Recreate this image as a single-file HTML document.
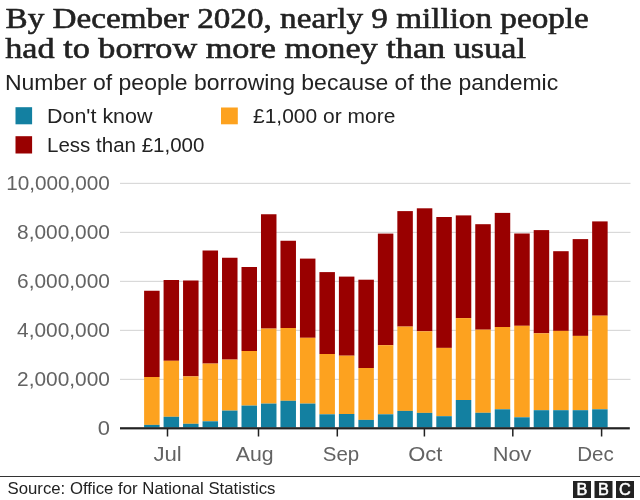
<!DOCTYPE html>
<html><head><meta charset="utf-8"><style>
html,body{margin:0;padding:0;background:#fff;}
body{width:640px;height:500px;overflow:hidden;}
svg{display:block;will-change:transform;}
text{font-family:"Liberation Sans",sans-serif;}
.title{font-family:"Liberation Serif",serif;font-weight:normal;font-size:27.5px;fill:#222;stroke:#222;stroke-width:0.55px;}
.sub{font-size:22.5px;fill:#222;}
.leg{font-size:20.5px;fill:#222;}
.ax{font-size:20px;fill:#636363;}
.axx{font-size:19.5px;fill:#636363;}
.src{font-size:16.5px;fill:#222;}
.bbc{font-weight:normal;font-size:16.3px;fill:#fff;stroke:#fff;stroke-width:0.5px;}
</style></head><body>
<svg width="640" height="500" viewBox="0 0 640 500">
<g transform="translate(5.5,28.1) scale(1,1.1)"><text x="0" y="0" class="title" textLength="583.3" lengthAdjust="spacingAndGlyphs">By December 2020, nearly 9 million people</text></g>
<g transform="translate(5.2,58.1) scale(1,1.1)"><text x="0" y="0" class="title" textLength="520.8" lengthAdjust="spacingAndGlyphs">had to borrow more money than usual</text></g>
<text x="4.9" y="89.75" class="sub" textLength="553.3" lengthAdjust="spacingAndGlyphs">Number of people borrowing because of the pandemic</text>
<rect x="15.5" y="107.2" width="16.6" height="17.1" fill="#1380A1"/>
<text x="47" y="122.9" class="leg" textLength="105.5" lengthAdjust="spacingAndGlyphs">Don't know</text>
<rect x="221" y="107.5" width="16.8" height="16.8" fill="#FDA21F"/>
<text x="253" y="122.9" class="leg" textLength="142.3" lengthAdjust="spacingAndGlyphs">£1,000 or more</text>
<rect x="15.5" y="136.2" width="16.6" height="17.3" fill="#990000"/>
<text x="47" y="151.6" class="leg" textLength="157.4" lengthAdjust="spacingAndGlyphs">Less than £1,000</text>
<rect x="120" y="182.8" width="510.5" height="1.2" fill="#d9d9d9"/><rect x="120" y="231.8" width="510.5" height="1.2" fill="#d9d9d9"/><rect x="120" y="280.8" width="510.5" height="1.2" fill="#d9d9d9"/><rect x="120" y="329.8" width="510.5" height="1.2" fill="#d9d9d9"/><rect x="120" y="378.8" width="510.5" height="1.2" fill="#d9d9d9"/>
<text x="109.85" y="190.1" text-anchor="end" class="ax" textLength="103.7" lengthAdjust="spacingAndGlyphs">10,000,000</text><text x="109.85" y="239.1" text-anchor="end" class="ax" textLength="92.8" lengthAdjust="spacingAndGlyphs">8,000,000</text><text x="109.85" y="288.1" text-anchor="end" class="ax" textLength="92.8" lengthAdjust="spacingAndGlyphs">6,000,000</text><text x="109.85" y="337.1" text-anchor="end" class="ax" textLength="92.8" lengthAdjust="spacingAndGlyphs">4,000,000</text><text x="109.85" y="386.1" text-anchor="end" class="ax" textLength="92.8" lengthAdjust="spacingAndGlyphs">2,000,000</text><text x="109.85" y="435.1" text-anchor="end" class="ax" textLength="12.2" lengthAdjust="spacingAndGlyphs">0</text>
<rect x="144.10" y="290.75" width="15.5" height="86.25" fill="#990000"/><rect x="144.10" y="377.00" width="15.5" height="47.90" fill="#FDA21F"/><rect x="144.10" y="424.90" width="15.5" height="2.60" fill="#1380A1"/><rect x="163.58" y="280.00" width="15.5" height="80.80" fill="#990000"/><rect x="163.58" y="360.80" width="15.5" height="56.00" fill="#FDA21F"/><rect x="163.58" y="416.80" width="15.5" height="10.70" fill="#1380A1"/><rect x="183.06" y="280.50" width="15.5" height="95.90" fill="#990000"/><rect x="183.06" y="376.40" width="15.5" height="47.40" fill="#FDA21F"/><rect x="183.06" y="423.80" width="15.5" height="3.70" fill="#1380A1"/><rect x="202.54" y="250.50" width="15.5" height="113.10" fill="#990000"/><rect x="202.54" y="363.60" width="15.5" height="57.70" fill="#FDA21F"/><rect x="202.54" y="421.30" width="15.5" height="6.20" fill="#1380A1"/><rect x="222.02" y="257.75" width="15.5" height="101.85" fill="#990000"/><rect x="222.02" y="359.60" width="15.5" height="51.00" fill="#FDA21F"/><rect x="222.02" y="410.60" width="15.5" height="16.90" fill="#1380A1"/><rect x="241.50" y="267.00" width="15.5" height="84.00" fill="#990000"/><rect x="241.50" y="351.00" width="15.5" height="54.60" fill="#FDA21F"/><rect x="241.50" y="405.60" width="15.5" height="21.90" fill="#1380A1"/><rect x="260.98" y="214.25" width="15.5" height="114.35" fill="#990000"/><rect x="260.98" y="328.60" width="15.5" height="75.00" fill="#FDA21F"/><rect x="260.98" y="403.60" width="15.5" height="23.90" fill="#1380A1"/><rect x="280.46" y="240.75" width="15.5" height="87.25" fill="#990000"/><rect x="280.46" y="328.00" width="15.5" height="72.80" fill="#FDA21F"/><rect x="280.46" y="400.80" width="15.5" height="26.70" fill="#1380A1"/><rect x="299.94" y="258.60" width="15.5" height="79.20" fill="#990000"/><rect x="299.94" y="337.80" width="15.5" height="65.80" fill="#FDA21F"/><rect x="299.94" y="403.60" width="15.5" height="23.90" fill="#1380A1"/><rect x="319.42" y="272.10" width="15.5" height="81.90" fill="#990000"/><rect x="319.42" y="354.00" width="15.5" height="60.30" fill="#FDA21F"/><rect x="319.42" y="414.30" width="15.5" height="13.20" fill="#1380A1"/><rect x="338.90" y="276.60" width="15.5" height="79.10" fill="#990000"/><rect x="338.90" y="355.70" width="15.5" height="58.30" fill="#FDA21F"/><rect x="338.90" y="414.00" width="15.5" height="13.50" fill="#1380A1"/><rect x="358.38" y="279.70" width="15.5" height="88.30" fill="#990000"/><rect x="358.38" y="368.00" width="15.5" height="51.90" fill="#FDA21F"/><rect x="358.38" y="419.90" width="15.5" height="7.60" fill="#1380A1"/><rect x="377.86" y="233.60" width="15.5" height="111.60" fill="#990000"/><rect x="377.86" y="345.20" width="15.5" height="69.10" fill="#FDA21F"/><rect x="377.86" y="414.30" width="15.5" height="13.20" fill="#1380A1"/><rect x="397.34" y="211.10" width="15.5" height="115.50" fill="#990000"/><rect x="397.34" y="326.60" width="15.5" height="84.30" fill="#FDA21F"/><rect x="397.34" y="410.90" width="15.5" height="16.60" fill="#1380A1"/><rect x="416.82" y="208.30" width="15.5" height="123.00" fill="#990000"/><rect x="416.82" y="331.30" width="15.5" height="81.60" fill="#FDA21F"/><rect x="416.82" y="412.90" width="15.5" height="14.60" fill="#1380A1"/><rect x="436.30" y="217.00" width="15.5" height="130.90" fill="#990000"/><rect x="436.30" y="347.90" width="15.5" height="68.30" fill="#FDA21F"/><rect x="436.30" y="416.20" width="15.5" height="11.30" fill="#1380A1"/><rect x="455.78" y="215.40" width="15.5" height="102.70" fill="#990000"/><rect x="455.78" y="318.10" width="15.5" height="81.90" fill="#FDA21F"/><rect x="455.78" y="400.00" width="15.5" height="27.50" fill="#1380A1"/><rect x="475.26" y="224.20" width="15.5" height="105.50" fill="#990000"/><rect x="475.26" y="329.70" width="15.5" height="83.10" fill="#FDA21F"/><rect x="475.26" y="412.80" width="15.5" height="14.70" fill="#1380A1"/><rect x="494.74" y="212.90" width="15.5" height="114.10" fill="#990000"/><rect x="494.74" y="327.00" width="15.5" height="82.30" fill="#FDA21F"/><rect x="494.74" y="409.30" width="15.5" height="18.20" fill="#1380A1"/><rect x="514.22" y="233.50" width="15.5" height="92.30" fill="#990000"/><rect x="514.22" y="325.80" width="15.5" height="91.50" fill="#FDA21F"/><rect x="514.22" y="417.30" width="15.5" height="10.20" fill="#1380A1"/><rect x="533.70" y="230.10" width="15.5" height="103.20" fill="#990000"/><rect x="533.70" y="333.30" width="15.5" height="76.90" fill="#FDA21F"/><rect x="533.70" y="410.20" width="15.5" height="17.30" fill="#1380A1"/><rect x="553.18" y="251.20" width="15.5" height="79.70" fill="#990000"/><rect x="553.18" y="330.90" width="15.5" height="79.30" fill="#FDA21F"/><rect x="553.18" y="410.20" width="15.5" height="17.30" fill="#1380A1"/><rect x="572.66" y="239.10" width="15.5" height="96.80" fill="#990000"/><rect x="572.66" y="335.90" width="15.5" height="74.30" fill="#FDA21F"/><rect x="572.66" y="410.20" width="15.5" height="17.30" fill="#1380A1"/><rect x="592.14" y="221.40" width="15.5" height="94.30" fill="#990000"/><rect x="592.14" y="315.70" width="15.5" height="93.60" fill="#FDA21F"/><rect x="592.14" y="409.30" width="15.5" height="18.20" fill="#1380A1"/>
<rect x="120" y="427.2" width="509.8" height="2.2" fill="#222"/>
<rect x="166.75" y="428" width="1.5" height="8.5" fill="#222"/><rect x="257.75" y="428" width="1.5" height="8.5" fill="#222"/><rect x="336.55" y="428" width="1.5" height="8.5" fill="#222"/><rect x="423.65" y="428" width="1.5" height="8.5" fill="#222"/><rect x="512.05" y="428" width="1.5" height="8.5" fill="#222"/><rect x="600.85" y="428" width="1.5" height="8.5" fill="#222"/>
<text x="153.4" y="461.3" class="axx" textLength="28.4" lengthAdjust="spacingAndGlyphs">Jul</text><text x="235.8" y="461.3" class="axx" textLength="37.8" lengthAdjust="spacingAndGlyphs">Aug</text><text x="322.8" y="461.3" class="axx" textLength="36.4" lengthAdjust="spacingAndGlyphs">Sep</text><text x="408.2" y="461.3" class="axx" textLength="34.2" lengthAdjust="spacingAndGlyphs">Oct</text><text x="492.8" y="461.3" class="axx" textLength="38.7" lengthAdjust="spacingAndGlyphs">Nov</text><text x="577.2" y="461.3" class="axx" textLength="36.6" lengthAdjust="spacingAndGlyphs">Dec</text>
<rect x="0" y="476" width="640" height="1" fill="#333"/>
<text x="7.5" y="494" class="src" textLength="268" lengthAdjust="spacingAndGlyphs">Source: Office for National Statistics</text>
<rect x="573" y="481" width="18" height="17" fill="#222"/>
<rect x="594.5" y="481" width="18" height="17" fill="#222"/>
<rect x="616" y="481" width="18" height="17" fill="#222"/>
<text x="582" y="495.2" class="bbc" text-anchor="middle">B</text>
<text x="603.5" y="495.2" class="bbc" text-anchor="middle">B</text>
<text x="625" y="495.2" class="bbc" text-anchor="middle">C</text>
</svg>
</body></html>
